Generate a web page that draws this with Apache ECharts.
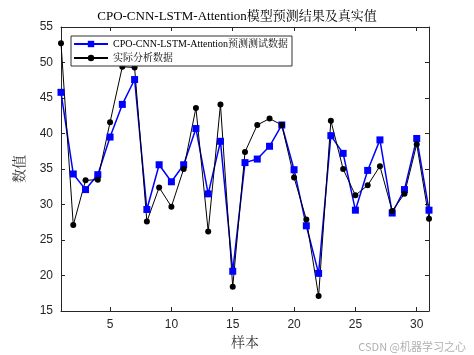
<!DOCTYPE html>
<html>
<head>
<meta charset="utf-8">
<script src="https://cdn.jsdelivr.net/npm/echarts@6/dist/echarts.min.js"></script>
<style>
html,body{margin:0;padding:0;background:#fff;}
#main{width:474px;height:355px;}
</style>
</head>
<body>
<div id="main"></div>
<script>
// 样本序号
var samples = [1,2,3,4,5,6,7,8,9,10,11,12,13,14,15,16,17,18,19,20,21,22,23,24,25,26,27,28,29,30,31];
// 预测测试数据
var predValues = [45.8,34.3,32.1,34.2,39.5,44.1,47.6,29.3,35.6,33.2,35.6,40.7,31.5,38.9,20.6,35.9,36.4,38.2,41.2,34.9,27.0,20.3,39.7,37.2,29.2,34.8,39.1,28.8,32.1,39.3,29.2];
// 实际分析数据
var realValues = [52.7,27.1,33.4,33.5,41.6,49.4,49.3,27.6,32.4,29.7,35.0,43.6,26.2,44.1,18.4,37.4,41.2,42.1,41.2,33.8,27.9,17.1,41.8,35.0,31.3,32.7,35.4,29.1,31.5,38.5,28.0];
var xTicks = [5,10,15,20,25,30];

var pairs = function(vals){
    var arr = [];
    for(var i=0;i<samples.length;i++){
        arr.push([samples[i], vals[i]]);
    }
    return arr;
};

var serif = '"Liberation Serif","Noto Serif CJK SC","Noto Sans CJK SC",serif';
var sans = '"Liberation Sans",Arial,sans-serif';
var frame = '#262626';

var myChart = echarts.init(document.getElementById('main'));
myChart.setOption({
    animation: false,
    backgroundColor: '#fff',
    title: {
        text: 'CPO-CNN-LSTM-Attention模型预测结果及真实值',
        left: 'center',
        top: 5,
        textStyle: {fontFamily: serif, fontSize: 13, fontWeight: 'normal', color: '#000'}
    },
    grid: {left: 61, top: 27, width: 368, height: 288},
    legend: {
        left: 71,
        top: 36,
        orient: 'vertical',
        itemGap: 2,
        itemWidth: 34,
        itemHeight: 8,
        padding: [2, 4, 2, 2],
        borderColor: '#333',
        borderWidth: 1,
        borderRadius: 0,
        backgroundColor: '#fff',
        textStyle: {fontFamily: serif, fontSize: 10, lineHeight: 12, color: '#000'},
        data: ['CPO-CNN-LSTM-Attention预测测试数据', '实际分析数据']
    },
    xAxis: [{
        type: 'value',
        min: 1, max: 31,
        name: '样本',
        nameLocation: 'middle',
        nameGap: 25,
        nameTextStyle: {fontFamily: serif, fontSize: 14, color: '#333'},
        splitLine: {show: false},
        axisLine: {lineStyle: {color: frame}},
        axisTick: {inside: true, length: 4, customValues: xTicks, lineStyle: {color: frame}},
        axisLabel: {customValues: xTicks, fontFamily: sans, fontSize: 12, color: '#262626', margin: 8}
    }, {
        type: 'value',
        position: 'top',
        min: 1, max: 31,
        splitLine: {show: false},
        axisLine: {show: true, lineStyle: {color: frame}},
        axisTick: {inside: true, length: 4, customValues: xTicks, lineStyle: {color: frame}},
        axisLabel: {show: false}
    }],
    yAxis: [{
        type: 'value',
        min: 15, max: 55, interval: 5,
        name: '数值',
        nameLocation: 'middle',
        nameGap: 34,
        nameTextStyle: {fontFamily: serif, fontSize: 14, color: '#333'},
        splitLine: {show: false},
        axisLine: {show: true, lineStyle: {color: frame}},
        axisTick: {inside: true, length: 4, lineStyle: {color: frame}},
        axisLabel: {fontFamily: sans, fontSize: 12, color: '#262626', margin: 8}
    }, {
        type: 'value',
        position: 'right',
        min: 15, max: 55, interval: 5,
        splitLine: {show: false},
        axisLine: {show: true, lineStyle: {color: frame}},
        axisTick: {inside: true, length: 4, lineStyle: {color: frame}},
        axisLabel: {show: false}
    }],
    series: [{
        name: 'CPO-CNN-LSTM-Attention预测测试数据',
        type: 'line',
        data: pairs(predValues),
        symbol: 'rect',
        symbolSize: 7,
        color: '#0000ff',
        lineStyle: {width: 1.5, color: '#0000ff'},
        itemStyle: {color: '#0000ff'}
    }, {
        name: '实际分析数据',
        type: 'line',
        data: pairs(realValues),
        symbol: 'circle',
        symbolSize: 6,
        color: '#000',
        lineStyle: {width: 1, color: '#000'},
        itemStyle: {color: '#000'}
    }],
    graphic: [{
        type: 'text',
        right: 8,
        bottom: 3,
        style: {text: 'CSDN @机器学习之心', fontFamily: '"Noto Sans CJK SC",sans-serif', fontSize: 11, fill: '#b0b0b0'}
    }]
});
</script>
</body>
</html>
